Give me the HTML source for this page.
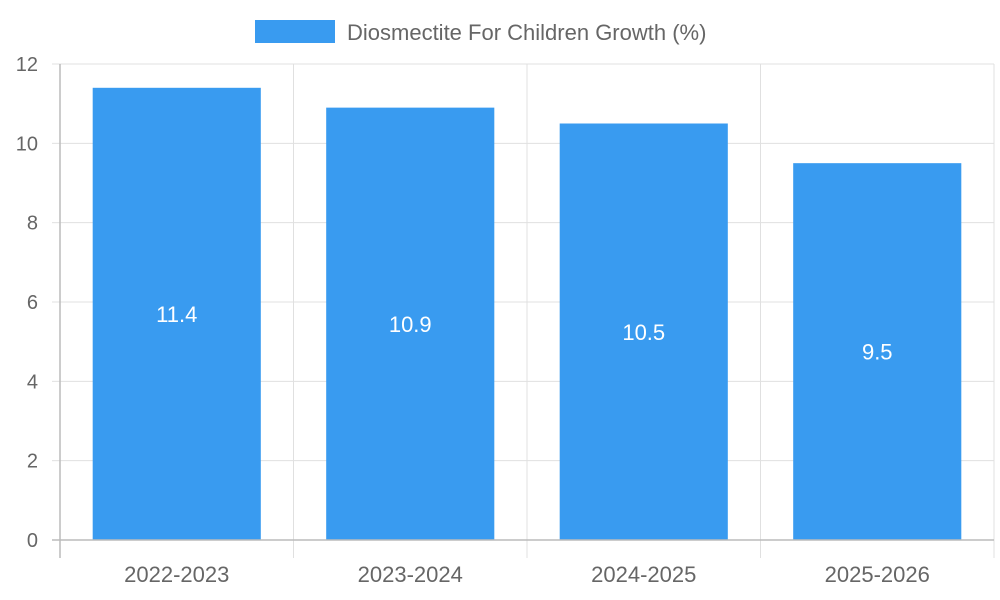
<!DOCTYPE html>
<html><head><meta charset="utf-8"><style>
html,body{margin:0;padding:0;background:#fff;}
svg{display:block;font-family:"Liberation Sans",sans-serif;}
</style></head><body>
<svg id="chart" width="1000" height="600">
  <g>
    <rect x="255" y="20" width="80" height="23" fill="#399bf0"/>
    <text x="347" y="40" font-size="22" fill="#666">Diosmectite For Children Growth (%)</text>
  </g>
  <g id="grid"></g>
  <g id="bars"></g>
  <g id="axes"></g>
</svg>
<script>
const categories = ["2022-2023","2023-2024","2024-2025","2025-2026"];
const values = [11.4, 10.9, 10.5, 9.5];
const yTicks = [0,2,4,6,8,10,12];
const L=60,R=994,T=64,B=540,yMax=12;
const NS="http://www.w3.org/2000/svg";
const band=(R-L)/categories.length;
const y=v=>B-(v/yMax)*(B-T);
const x=i=>L+i*band;
function mk(tag,attrs,parent,text){const e=document.createElementNS(NS,tag);for(const k in attrs)e.setAttribute(k,attrs[k]);if(text!==undefined)e.textContent=text;parent.appendChild(e);return e;}
const grid=document.getElementById('grid'),bars=document.getElementById('bars'),axes=document.getElementById('axes');
yTicks.forEach(t=>{
  const l=mk('line',{x1:L,x2:R,y1:y(t),y2:y(t),stroke:'#e0e0e0','stroke-width':1},grid);
  
  
  const tk=mk('line',{x1:L-8,x2:L,y1:y(t),y2:y(t),stroke:'#e0e0e0','stroke-width':1},grid);
  
  
  const lb=mk('text',{x:L-22,y:y(t)+7,'text-anchor':'end','font-size':20,fill:'#666'},axes,String(t));
  
  
});
for(let i=1;i<=categories.length;i++){
  const l=mk('line',{x1:x(i),x2:x(i),y1:T,y2:B+18,stroke:'#e0e0e0','stroke-width':1},grid);
  
  
}
categories.forEach((c,i)=>{
  const bw=band*0.72, bx=x(i)+(band-bw)/2;
  const r=mk('rect',{x:bx,y:y(values[i]),width:bw,height:B-y(values[i]),fill:'#399bf0'},bars);
  
  
  const v=mk('text',{x:bx+bw/2,y:(y(values[i])+B)/2+8,'text-anchor':'middle','font-size':22,fill:'#fff'},bars,String(values[i]));
  
  
  const lb=mk('text',{x:x(i)+band/2,y:582,'text-anchor':'middle','font-size':22,fill:'#666'},axes,c);
  
  
});
const ya=mk('line',{x1:L,x2:L,y1:T,y2:B+18,stroke:'#bbb','stroke-width':1.5},axes);


const xa=mk('line',{x1:L-8,x2:R,y1:B,y2:B,stroke:'#bbb','stroke-width':1.5},axes);


</script>
</body></html>
